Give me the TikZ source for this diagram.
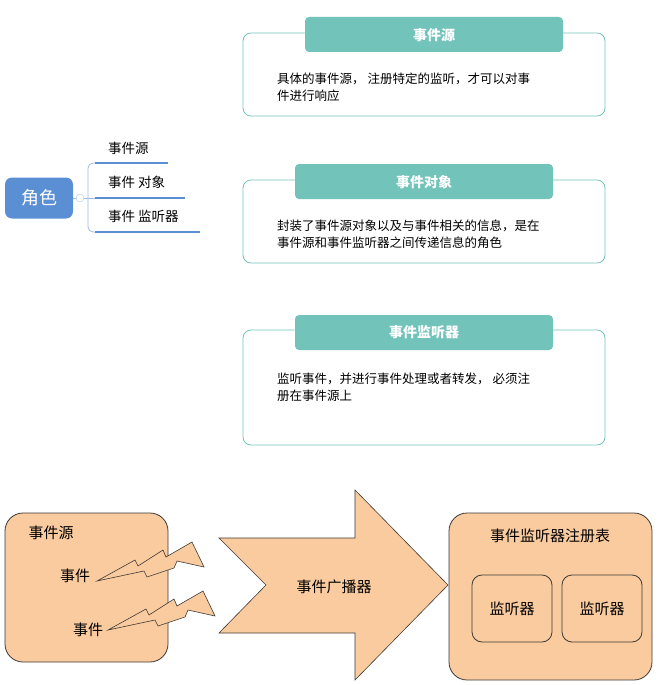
\documentclass[tikz,border=0pt]{standalone}
\usepackage{fontspec}
\setmainfont{Noto Sans CJK SC}
\definecolor{teal1}{HTML}{72C3BA}
\definecolor{blue1}{HTML}{5A8FD4}
\definecolor{org}{HTML}{FACB9E}
\definecolor{brd}{HTML}{3E3A36}
\tikzset{
 card/.style={draw=teal1,rounded corners=8pt,line width=0.8pt},
 hdr/.style={fill=teal1,rounded corners=4pt},
 htxt/.style={text=white,font=\fontsize{14}{16}\selectfont\bfseries},
 body/.style={anchor=north west,align=left,font=\fontsize{12.5}{17}\selectfont,inner sep=0pt},
 obox/.style={draw=brd,fill=org,rounded corners=18pt,line width=0.8pt},
 olbl/.style={font=\fontsize{15}{17}\selectfont},
 mm/.style={font=\fontsize{13.5}{15}\selectfont,anchor=west,inner sep=0pt},
 ul/.style={blue1,line width=2.6pt}
}
\begin{document}
\begin{tikzpicture}[x=1pt,y=-1pt]
\useasboundingbox (0,0) rectangle (660,685);
% cards
\draw[card] (243,33) rectangle (605,116);
\fill[hdr] (305,17) rectangle (563,52);
\node[htxt] (h1) at (434,35) {事件源};
\node[body] (b1) at (277,73) {具体的事件源， 注册特定的监听，才可以对事\\件进行响应};
\draw[card] (243,180) rectangle (605,263);
\fill[hdr] (295,164) rectangle (553,199);
\node[htxt] (h2) at (424,182) {事件对象};
\node[body] (b2) at (277,220) {封装了事件源对象以及与事件相关的信息，是在\\事件源和事件监听器之间传递信息的角色};
\draw[card] (243,330) rectangle (605,445);
\fill[hdr] (295,315) rectangle (553,350);
\node[htxt] (h3) at (424,332) {事件监听器};
\node[body] (b3) at (277,373) {监听事件，并进行事件处理或者转发， 必须注\\册在事件源上};
% mind map
\node[fill=blue1,rounded corners=7pt,minimum width=68pt,minimum height=41pt,text=white,font=\fontsize{18}{20}\selectfont] (role) at (39,198) {角色};
\draw[blue1!60,line width=0.8pt] (role.east) -- (76,198);
\node[draw=blue1!50,fill=white,circle,inner sep=0pt,minimum size=8pt] (c) at (80,198) {};
\draw[blue1!60,line width=0.8pt,rounded corners=5pt] (95,163) -- (88,163) -- (88,232) -- (95,232);
\draw[blue1!60,line width=0.8pt] (c.east) -- (95,198);
\draw[ul] (95,163) -- (168,163);
\draw[ul] (95,198) -- (185,198);
\draw[ul] (95,232) -- (200,232);
\node[mm] (m1) at (108,148) {事件源};
\node[mm] (m2) at (108,182) {事件 对象};
\node[mm] (m3) at (108,216) {事件 监听器};
% bottom
\draw[obox] (5,513) rectangle (168,662);
\node[olbl] (src) at (51,533) {事件源};
\node[olbl] (e1) at (75,576) {事件};
\node[olbl] (e2) at (88,630) {事件};
\foreach \tx/\ty in {97/581, 108/630}{
 \draw[brd,fill=org,line width=0.6pt,shift={(\tx,\ty)}] (0,0) -- (38,-21) -- (41,-15) -- (66,-31) -- (69,-24) -- (95,-39) -- (107,-14) -- (80,-20) -- (77,-13) -- (50,-4) -- (47,-10) -- cycle;
}
\draw[brd,fill=org,line width=0.6pt] (219,538) -- (355,538) -- (355,490) -- (448,585) -- (355,680) -- (355,633) -- (219,633) -- (266,585) -- cycle;
\node[olbl] (bc) at (334,587) {事件广播器};
\draw[obox] (449,513) rectangle (652,680);
\node[olbl] (reg) at (550,536) {事件监听器注册表};
\draw[obox,rounded corners=10pt] (472,575) rectangle (552,642);
\node[olbl] (l1) at (512,609) {监听器};
\draw[obox,rounded corners=10pt] (562,575) rectangle (642,642);
\node[olbl] (l2) at (602,609) {监听器};
\end{tikzpicture}
\end{document}
